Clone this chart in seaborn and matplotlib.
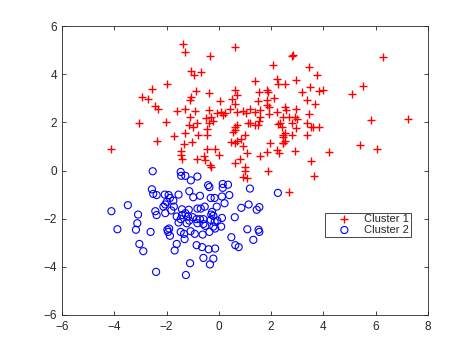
import numpy as np
import pandas as pd
import matplotlib
matplotlib.use('Agg')
import matplotlib.pyplot as plt
import seaborn as sns

sns.set_theme(style='ticks')
plt.rcParams['font.family'] = ['Liberation Sans', 'DejaVu Sans']

# cluster 1 (red +)
c1_x = [-1.38, -1.31, 0.61, -0.33, 2.80, 2.84, 2.08, -1.08, -0.95, -0.68,
        -1.97, -2.57, -2.93, -2.70, -2.44, -2.34, -1.59, -1.28, -3.05, -2.02,
        -1.10, -1.05, -1.10, 1.38, 2.24, 2.26, 2.52, 2.95, 1.85, 1.90,
        1.55, 0.63, 0.68, -0.39, -0.87, 0.04, 0.50, 0.63, 2.11, 1.85,
        1.50, -0.90, -0.39, 0.43, 0.94, 1.19, 1.39, 1.57, 1.83, 1.91,
        2.24, 2.54, 2.95, -0.08, 0.09, 0.25, 0.17, 0.71, 1.04, -0.49,
        -0.29, 1.57, 1.93, 2.47, 2.67, 2.90, -0.85, -0.39, -0.21, 0.68,
        0.63, 1.19, 1.55, 1.50, 2.34, 2.42, -0.44, -0.98, 6.27, 3.46,
        3.77, 3.18, 3.49, 3.84, 3.97, 5.09, 5.50, 3.36, 3.69, 2.57,
        3.44, 2.98, 5.81, 7.24, 3.36, 3.51, 3.61, 3.84, 2.95, 2.47,
        2.80, 3.38, 2.47, 2.90, 4.20, 5.40, 6.06, 3.51, 3.64, 2.70,
        -1.72, -1.28, -1.15, -0.80, -1.03, -1.33, -1.44, -1.46, -1.42, -0.85,
        -0.57, -0.52, -0.34, -0.29, -0.46, -0.44, -0.14, -0.01, 0.61, 0.53,
        0.48, 0.61, 0.68, 0.86, 0.99, 1.12, 1.37, 0.94, 1.09, 0.81,
        0.63, 1.01, 1.02, 0.94, 1.09, 1.57, 1.83, 1.96, 1.88, 2.21,
        2.29, 2.44, 2.54, 2.54, 2.44, 2.26, 2.80, -2.38, -4.14]
c1_y = [5.25, 4.92, 5.12, 4.75, 4.75, 4.78, 4.37, 4.12, 3.95, 4.09,
        3.58, 3.37, 3.07, 2.98, 2.68, 2.57, 2.47, 2.57, 1.99, 2.02,
        2.21, 3.07, 2.93, 3.71, 3.81, 3.59, 3.59, 3.76, 3.34, 3.28,
        3.26, 3.34, 3.12, 3.23, 3.29, 2.90, 2.98, 2.76, 3.01, 2.93,
        2.88, 2.49, 2.51, 2.57, 2.46, 2.57, 2.43, 2.51, 2.71, 2.63,
        2.43, 2.62, 2.57, 2.40, 2.43, 2.38, 2.29, 2.43, 2.38, 2.18,
        2.21, 2.21, 2.35, 2.24, 2.21, 2.21, 1.99, 1.96, 2.05, 1.90,
        1.80, 1.99, 2.05, 1.90, 1.96, 1.82, 1.74, 1.82, 4.73, 4.31,
        3.98, 3.26, 3.46, 3.29, 3.34, 3.18, 3.51, 2.93, 2.76, 2.51,
        2.35, 2.13, 2.10, 2.15, 1.96, 1.82, 1.80, 1.82, 1.77, 1.46,
        1.49, 1.49, 1.16, 0.80, 0.77, 1.07, 0.88, 0.39, -0.22, -0.89,
        1.44, 1.55, 1.90, 1.46, 1.19, 1.10, 0.80, 0.65, 0.47, 0.49,
        0.61, 0.44, 0.22, 0.16, 0.91, 1.46, 0.91, 0.63, 1.68, 1.60,
        1.19, 1.13, 1.24, 1.32, 1.49, 1.96, 1.88, 1.02, 0.72, 0.49,
        0.33, 0.14, -0.03, -0.25, -0.33, 0.61, 0.77, 1.16, -0.02, 0.85,
        0.72, 1.13, 1.22, 1.55, 1.41, 1.93, 1.99, 1.22, 0.91]

# cluster 2 (blue o)
c2_x = [-2.53, -1.46, -1.44, -1.28, -1.07, -2.56, -2.51, -2.38, -2.07, -1.92,
        -1.87, -1.74, -1.99, -2.05, -2.12, -1.54, -1.13, -3.48, -4.11, -3.09,
        -2.43, -2.38, -2.05, -1.82, -1.61, -1.46, -1.41, -1.28, -1.18, -1.54,
        -1.23, -1.13, -3.12, -3.88, -3.17, -2.61, -1.97, -1.90, -1.87, -1.46,
        -1.33, -1.31, -1.61, -1.69, -3.04, -2.89, -1.10, -1.26, -2.40, -0.82,
        -0.41, -0.36, 0.15, 0.35, 0.15, -0.72, -0.98, -0.31, -0.16, 0.12,
        0.40, 0.22, -0.08, -0.54, -0.82, -0.69, -1.15, -1.41, -1.72, -1.00,
        -0.85, -0.82, -0.72, -0.59, -0.59, -0.52, -0.31, -0.29, -0.26, -0.21,
        -0.16, -0.14, -0.21, -0.06, 0.12, 0.09, -0.36, -0.62, -0.92, -1.08,
        -1.94, -0.85, -0.64, -0.39, -0.14, 0.48, 0.61, 0.86, 1.14, 1.45,
        1.55, 1.09, 1.52, 1.55, 1.32, 0.63, 0.76, -0.59, -0.21, -0.34,
        2.26, 1.19]
c2_y = [-0.03, -0.06, -0.22, -0.22, -0.41, -0.78, -0.97, -1.02, -1.00, -1.02,
        -1.14, -1.25, -1.30, -1.41, -1.50, -1.00, -0.86, -1.44, -1.69, -1.83,
        -1.69, -1.85, -1.77, -1.66, -1.91, -2.02, -1.85, -1.77, -1.91, -2.16,
        -2.19, -2.08, -2.19, -2.44, -2.46, -2.55, -2.46, -2.41, -2.71, -2.55,
        -2.63, -2.85, -3.05, -3.32, -3.05, -3.35, -3.85, -4.34, -4.21, -0.25,
        -0.61, -0.69, -0.56, -0.59, -0.72, -1.05, -1.11, -1.14, -1.14, -1.08,
        -1.02, -1.36, -1.50, -1.50, -1.58, -1.58, -1.63, -1.61, -1.50, -1.94,
        -2.02, -2.19, -2.02, -2.02, -2.22, -2.30, -2.05, -1.83, -1.72, -1.88,
        -2.13, -2.41, -2.33, -2.08, -1.97, -2.33, -2.55, -2.66, -2.63, -2.52,
        -2.55, -3.10, -3.18, -3.27, -3.24, -2.77, -1.94, -1.55, -1.41, -1.63,
        -1.52, -2.44, -2.46, -2.55, -2.88, -3.10, -3.18, -3.63, -3.66, -3.90,
        -0.93, -0.75]

labels = ['Cluster 1', 'Cluster 2']
x_ticks = [-6, -4, -2, 0, 2, 4, 6, 8]
y_ticks = [-6, -4, -2, 0, 2, 4, 6]

d1 = pd.DataFrame({'x': c1_x, 'y': c1_y})
d2 = pd.DataFrame({'x': c2_x, 'y': c2_y})

ink = '#262626'
fig = plt.figure(figsize=(4.74, 3.55), dpi=100, facecolor='white')
ax = fig.add_axes([0.1308, 0.1127, 0.772, 0.814])

sns.scatterplot(data=d1, x='x', y='y', ax=ax, marker='+', color='red',
                edgecolor='red', s=34, linewidth=1.0, label=labels[0])
sns.scatterplot(data=d2, x='x', y='y', ax=ax, marker='o', facecolors='none',
                edgecolors='blue', s=26, linewidth=0.8, label=labels[1])

ax.set_xlim(-6, 8)
ax.set_ylim(-6, 6)
ax.set_xticks(x_ticks)
ax.set_yticks(y_ticks)
ax.set_xlabel('')
ax.set_ylabel('')
ax.tick_params(direction='in', length=3, width=0.6, colors=ink, labelsize=8.5,
               top=True, right=True, labeltop=False, labelright=False)
ax.tick_params(axis='x', pad=4)
for sp in ax.spines.values():
    sp.set_visible(True)
    sp.set_color(ink)
    sp.set_linewidth(0.6)

leg = ax.legend(loc='upper left', bbox_to_anchor=(0.7186, 0.354),
                borderaxespad=0, fontsize=8, frameon=True, fancybox=False,
                handlelength=3.2, handletextpad=0.2, borderpad=0.15,
                labelspacing=0.05, framealpha=1)
leg.get_frame().set_edgecolor(ink)
leg.get_frame().set_linewidth(0.6)

fig.savefig('out.png', dpi=100, facecolor='white')
